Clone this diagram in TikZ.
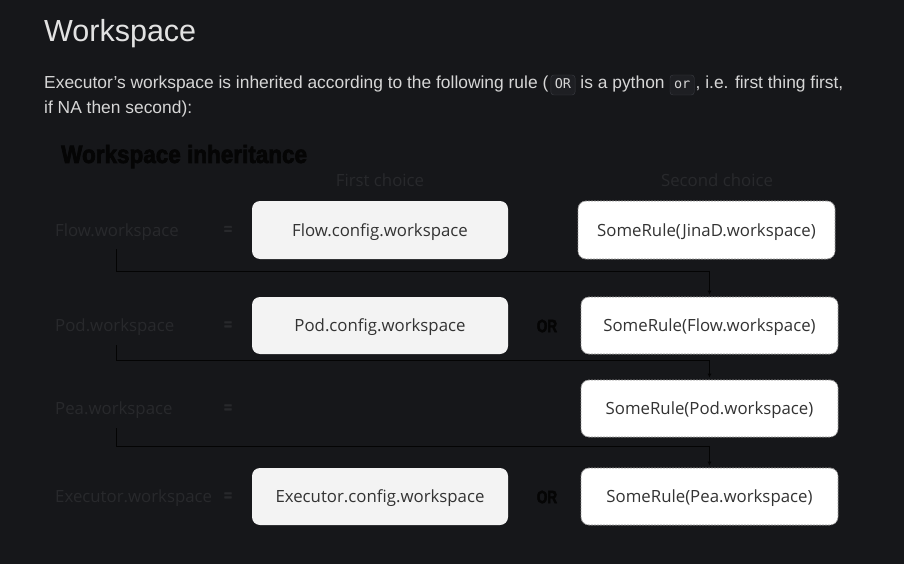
\documentclass[tikz,border=0pt]{standalone}
\usepackage{fontspec}
\setmainfont{Liberation Sans}
\newfontfamily\diafont{Open Sans}
\newfontfamily\heavyfont{Liberation Sans Bold}[FakeStretch=0.9,FakeBold=2.5]
\newfontfamily\orfont{Liberation Sans Bold}[FakeStretch=0.75,FakeBold=2.5]
\newfontfamily\codefont{DejaVu Sans Mono}
\usetikzlibrary{arrows.meta}
\definecolor{bgcol}{RGB}{22,23,26}
\definecolor{titlecol}{RGB}{226,226,226}
\definecolor{paracol}{RGB}{214,214,214}
\definecolor{labelcol}{RGB}{40,41,44}
\definecolor{heavycol}{RGB}{5,5,5}
\definecolor{linecol}{RGB}{4,4,4}
\definecolor{boxfill}{RGB}{243,243,243}
\definecolor{boxtext}{RGB}{51,51,51}
\definecolor{rulebord}{RGB}{150,150,150}
\definecolor{codefill}{RGB}{30,31,35}
\definecolor{codebord}{RGB}{58,60,66}

\begin{document}
\begin{tikzpicture}[x=1pt,y=-1pt,
  every node/.style={inner sep=0pt},
  para/.style={anchor=base west,text=paracol,font=\fontsize{17.4}{22}\selectfont},
  code/.style={anchor=base west,draw=codebord,fill=codefill,rounded corners=3pt,
    inner xsep=4pt,inner ysep=1.5pt,text height=12.5pt,text depth=4.5pt,
    text=paracol,font=\codefont\fontsize{13.5}{16}\selectfont},
  wslabel/.style={anchor=west,text height=15pt,text depth=3pt,text=labelcol,
    font=\diafont\fontsize{16.8}{20}\selectfont},
  choice/.style={text height=15pt,text depth=3pt,text=labelcol,
    font=\diafont\fontsize{16.8}{20}\selectfont},
  equals/.style={text=labelcol,font=\heavyfont\fontsize{15}{18}\selectfont},
  orword/.style={text=heavycol,font=\orfont\fontsize{18}{20}\selectfont},
  firstbox/.style={fill=boxfill,rounded corners=8pt,minimum width=256pt,minimum height=57pt,
    text height=15pt,text depth=3pt,text=boxtext,font=\diafont\fontsize{16.8}{20}\selectfont},
  rulebox/.style={fill=white,draw=rulebord,line width=0.8pt,dash pattern=on 2pt off 1pt,
    rounded corners=8pt,minimum width=257pt,minimum height=57pt,
    text height=15pt,text depth=3pt,text=boxtext,font=\diafont\fontsize{16.8}{20}\selectfont},
  conn/.style={draw=linecol,line width=1pt,-{Latex[length=4pt,width=4pt]},shorten >=2pt}]
% background and page text
\fill[bgcol] (0,0) rectangle (904,564);
\node[anchor=base west,text=titlecol,font=\fontsize{30.5}{36}\selectfont] (title) at (44,42) {Workspace};
\node[para] (para1) at (44,89) {Executor’s workspace is inherited according to the following rule (};
\node[code] (codeOR) at ([xshift=2pt]para1.base east) {OR};
\node[para] (para1b) at ([xshift=5pt]codeOR.base east) {is a python};
\node[code] (codeor) at ([xshift=5pt]para1b.base east) {or};
\node[para] (para1c) at ([xshift=1pt]codeor.base east) {, i.e. first thing first,};
\node[para] (para2) at (44,114) {if NA then second):};
% diagram
\node[anchor=base west,text=heavycol,font=\heavyfont\fontsize{25}{28}\selectfont] (heading) at (61,163) {Workspace inheritance};
\node[choice] (first) at (380,180) {First choice};
\node[choice] (second) at (717,180) {Second choice};
\node[wslabel] (flowlbl) at (55,230) {Flow.workspace};
\node[wslabel] (podlbl) at (55,325.5) {Pod.workspace};
\node[wslabel] (pealbl) at (55,408.5) {Pea.workspace};
\node[wslabel] (execlbl) at (55,496.5) {Executor.workspace};
\node[equals] (eq1) at (228,230) {=};
\node[equals] (eq2) at (228,325.5) {=};
\node[equals] (eq3) at (228,408.5) {=};
\node[equals] (eq4) at (228,496.5) {=};
\node[firstbox,minimum height=58pt] (flowcfg) at (380,230) {Flow.config.workspace};
\node[firstbox] (podcfg) at (380,325.5) {Pod.config.workspace};
\node[firstbox] (execcfg) at (380,496.5) {Executor.config.workspace};
\node[orword] (or2) at (547,326) {OR};
\node[orword] (or4) at (547,497) {OR};
\node[rulebox,minimum height=58pt] (flowrule) at (706.5,230) {SomeRule(JinaD.workspace)};
\node[rulebox] (podrule) at (709.5,325.5) {SomeRule(Flow.workspace)};
\node[rulebox] (pearule) at (709.5,408.5) {SomeRule(Pod.workspace)};
\node[rulebox] (execrule) at (709.5,496.5) {SomeRule(Pea.workspace)};
% inheritance lines
\draw[conn] ([yshift=-10pt]flowlbl.south) |- ([yshift=25pt]podrule.north) -- (podrule.north);
\draw[conn] ([yshift=-10.5pt]podlbl.south -| flowlbl.south) |- ([yshift=19pt]pearule.north) -- (pearule.north);
\draw[conn] ([yshift=-10.5pt]pealbl.south -| flowlbl.south) |- ([yshift=21pt]execrule.north) -- (execrule.north);
\end{tikzpicture}
\end{document}
